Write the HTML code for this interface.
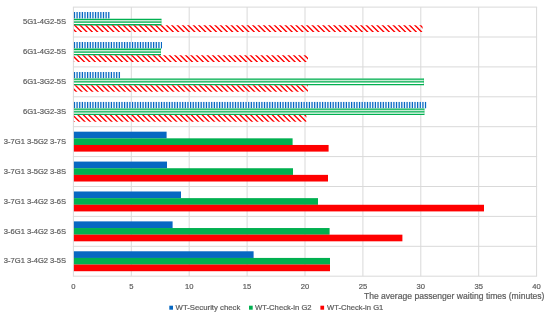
<!DOCTYPE html>
<html><head><meta charset="utf-8"><title>Chart</title><style>html,body{margin:0;padding:0;background:#fff}svg{display:block}</style></head><body>
<svg width="550" height="318" viewBox="0 0 550 318" font-family="'Liberation Sans', sans-serif" stroke-linejoin="round">
<rect width="550" height="318" fill="#fff"/>
<path d="M72.90 7.10H537.10M72.90 37.00H537.10M72.90 66.90H537.10M72.90 96.80H537.10M72.90 126.70H537.10M72.90 156.60H537.10M72.90 186.50H537.10M72.90 216.40H537.10M72.90 246.30H537.10M72.90 276.20H537.10M73.40 7.10V276.20M131.30 7.10V276.20M189.20 7.10V276.20M247.10 7.10V276.20M305.00 7.10V276.20M362.90 7.10V276.20M420.80 7.10V276.20M478.70 7.10V276.20M536.60 7.10V276.20" stroke="#d9d9d9" stroke-width="1" fill="none"/>
<defs><clipPath id="cb0"><rect x="73.90" y="12.08" width="36.10" height="6.64"/></clipPath><clipPath id="cr0"><rect x="73.90" y="25.37" width="348.70" height="6.64"/></clipPath><clipPath id="cb1"><rect x="73.90" y="41.98" width="88.10" height="6.64"/></clipPath><clipPath id="cr1"><rect x="73.90" y="55.27" width="234.10" height="6.64"/></clipPath><clipPath id="cb2"><rect x="73.90" y="71.88" width="46.70" height="6.64"/></clipPath><clipPath id="cr2"><rect x="73.90" y="85.17" width="234.10" height="6.64"/></clipPath><clipPath id="cb3"><rect x="73.90" y="101.78" width="352.70" height="6.64"/></clipPath><clipPath id="cr3"><rect x="73.90" y="115.07" width="232.50" height="6.64"/></clipPath></defs>
<g clip-path="url(#cb0)"><rect x="73.90" y="12.08" width="36.10" height="6.64" fill="#f2f7fd"/><path d="M74.45 12.08V18.73M77.09 12.08V18.73M79.73 12.08V18.73M82.37 12.08V18.73M85.01 12.08V18.73M87.65 12.08V18.73M90.29 12.08V18.73M92.93 12.08V18.73M95.57 12.08V18.73M98.21 12.08V18.73M100.85 12.08V18.73M103.49 12.08V18.73M106.13 12.08V18.73M108.77 12.08V18.73" stroke="#0768c2" stroke-width="1.25"/></g>
<rect x="73.90" y="18.73" width="87.50" height="6.64" fill="#fff"/>
<rect x="73.90" y="19.33" width="87.50" height="2.65" fill="#c9ecd6"/>
<path d="M73.90 19.35H161.40M73.90 22.15H161.40M73.90 24.76H161.40" stroke="#00b050" stroke-width="1.3"/>
<path d="M161.15 18.73V25.37" stroke="#00b050" stroke-width="0.5" opacity="0.6"/>
<g clip-path="url(#cr0)"><path d="M63.05 24.37l8.64 8.64M68.45 24.37l8.64 8.64M73.85 24.37l8.64 8.64M79.25 24.37l8.64 8.64M84.65 24.37l8.64 8.64M90.05 24.37l8.64 8.64M95.45 24.37l8.64 8.64M100.85 24.37l8.64 8.64M106.25 24.37l8.64 8.64M111.65 24.37l8.64 8.64M117.05 24.37l8.64 8.64M122.45 24.37l8.64 8.64M127.85 24.37l8.64 8.64M133.25 24.37l8.64 8.64M138.65 24.37l8.64 8.64M144.05 24.37l8.64 8.64M149.45 24.37l8.64 8.64M154.85 24.37l8.64 8.64M160.25 24.37l8.64 8.64M165.65 24.37l8.64 8.64M171.05 24.37l8.64 8.64M176.45 24.37l8.64 8.64M181.85 24.37l8.64 8.64M187.25 24.37l8.64 8.64M192.65 24.37l8.64 8.64M198.05 24.37l8.64 8.64M203.45 24.37l8.64 8.64M208.85 24.37l8.64 8.64M214.25 24.37l8.64 8.64M219.65 24.37l8.64 8.64M225.05 24.37l8.64 8.64M230.45 24.37l8.64 8.64M235.85 24.37l8.64 8.64M241.25 24.37l8.64 8.64M246.65 24.37l8.64 8.64M252.05 24.37l8.64 8.64M257.45 24.37l8.64 8.64M262.85 24.37l8.64 8.64M268.25 24.37l8.64 8.64M273.65 24.37l8.64 8.64M279.05 24.37l8.64 8.64M284.45 24.37l8.64 8.64M289.85 24.37l8.64 8.64M295.25 24.37l8.64 8.64M300.65 24.37l8.64 8.64M306.05 24.37l8.64 8.64M311.45 24.37l8.64 8.64M316.85 24.37l8.64 8.64M322.25 24.37l8.64 8.64M327.65 24.37l8.64 8.64M333.05 24.37l8.64 8.64M338.45 24.37l8.64 8.64M343.85 24.37l8.64 8.64M349.25 24.37l8.64 8.64M354.65 24.37l8.64 8.64M360.05 24.37l8.64 8.64M365.45 24.37l8.64 8.64M370.85 24.37l8.64 8.64M376.25 24.37l8.64 8.64M381.65 24.37l8.64 8.64M387.05 24.37l8.64 8.64M392.45 24.37l8.64 8.64M397.85 24.37l8.64 8.64M403.25 24.37l8.64 8.64M408.65 24.37l8.64 8.64M414.05 24.37l8.64 8.64M419.45 24.37l8.64 8.64" stroke="#ff0000" stroke-width="1.4"/></g>
<g clip-path="url(#cb1)"><rect x="73.90" y="41.98" width="88.10" height="6.64" fill="#f2f7fd"/><path d="M74.45 41.98V48.63M77.09 41.98V48.63M79.73 41.98V48.63M82.37 41.98V48.63M85.01 41.98V48.63M87.65 41.98V48.63M90.29 41.98V48.63M92.93 41.98V48.63M95.57 41.98V48.63M98.21 41.98V48.63M100.85 41.98V48.63M103.49 41.98V48.63M106.13 41.98V48.63M108.77 41.98V48.63M111.41 41.98V48.63M114.05 41.98V48.63M116.69 41.98V48.63M119.33 41.98V48.63M121.97 41.98V48.63M124.61 41.98V48.63M127.25 41.98V48.63M129.89 41.98V48.63M132.53 41.98V48.63M135.17 41.98V48.63M137.81 41.98V48.63M140.45 41.98V48.63M143.09 41.98V48.63M145.73 41.98V48.63M148.37 41.98V48.63M151.01 41.98V48.63M153.65 41.98V48.63M156.29 41.98V48.63M158.93 41.98V48.63M161.57 41.98V48.63" stroke="#0768c2" stroke-width="1.25"/></g>
<rect x="73.90" y="48.63" width="87.10" height="6.64" fill="#fff"/>
<rect x="73.90" y="49.23" width="87.10" height="2.65" fill="#c9ecd6"/>
<path d="M73.90 49.25H161.00M73.90 52.05H161.00M73.90 54.66H161.00" stroke="#00b050" stroke-width="1.3"/>
<path d="M160.75 48.63V55.27" stroke="#00b050" stroke-width="0.5" opacity="0.6"/>
<g clip-path="url(#cr1)"><path d="M60.55 54.27l8.64 8.64M65.95 54.27l8.64 8.64M71.35 54.27l8.64 8.64M76.75 54.27l8.64 8.64M82.15 54.27l8.64 8.64M87.55 54.27l8.64 8.64M92.95 54.27l8.64 8.64M98.35 54.27l8.64 8.64M103.75 54.27l8.64 8.64M109.15 54.27l8.64 8.64M114.55 54.27l8.64 8.64M119.95 54.27l8.64 8.64M125.35 54.27l8.64 8.64M130.75 54.27l8.64 8.64M136.15 54.27l8.64 8.64M141.55 54.27l8.64 8.64M146.95 54.27l8.64 8.64M152.35 54.27l8.64 8.64M157.75 54.27l8.64 8.64M163.15 54.27l8.64 8.64M168.55 54.27l8.64 8.64M173.95 54.27l8.64 8.64M179.35 54.27l8.64 8.64M184.75 54.27l8.64 8.64M190.15 54.27l8.64 8.64M195.55 54.27l8.64 8.64M200.95 54.27l8.64 8.64M206.35 54.27l8.64 8.64M211.75 54.27l8.64 8.64M217.15 54.27l8.64 8.64M222.55 54.27l8.64 8.64M227.95 54.27l8.64 8.64M233.35 54.27l8.64 8.64M238.75 54.27l8.64 8.64M244.15 54.27l8.64 8.64M249.55 54.27l8.64 8.64M254.95 54.27l8.64 8.64M260.35 54.27l8.64 8.64M265.75 54.27l8.64 8.64M271.15 54.27l8.64 8.64M276.55 54.27l8.64 8.64M281.95 54.27l8.64 8.64M287.35 54.27l8.64 8.64M292.75 54.27l8.64 8.64M298.15 54.27l8.64 8.64M303.55 54.27l8.64 8.64M308.95 54.27l8.64 8.64" stroke="#ff0000" stroke-width="1.4"/></g>
<g clip-path="url(#cb2)"><rect x="73.90" y="71.88" width="46.70" height="6.64" fill="#f2f7fd"/><path d="M74.45 71.88V78.53M77.09 71.88V78.53M79.73 71.88V78.53M82.37 71.88V78.53M85.01 71.88V78.53M87.65 71.88V78.53M90.29 71.88V78.53M92.93 71.88V78.53M95.57 71.88V78.53M98.21 71.88V78.53M100.85 71.88V78.53M103.49 71.88V78.53M106.13 71.88V78.53M108.77 71.88V78.53M111.41 71.88V78.53M114.05 71.88V78.53M116.69 71.88V78.53M119.33 71.88V78.53" stroke="#0768c2" stroke-width="1.25"/></g>
<rect x="73.90" y="78.53" width="350.10" height="6.64" fill="#fff"/>
<rect x="73.90" y="79.13" width="350.10" height="2.65" fill="#c9ecd6"/>
<path d="M73.90 79.15H424.00M73.90 81.95H424.00M73.90 84.56H424.00" stroke="#00b050" stroke-width="1.3"/>
<path d="M423.75 78.53V85.17" stroke="#00b050" stroke-width="0.5" opacity="0.6"/>
<g clip-path="url(#cr2)"><path d="M63.45 84.17l8.64 8.64M68.85 84.17l8.64 8.64M74.25 84.17l8.64 8.64M79.65 84.17l8.64 8.64M85.05 84.17l8.64 8.64M90.45 84.17l8.64 8.64M95.85 84.17l8.64 8.64M101.25 84.17l8.64 8.64M106.65 84.17l8.64 8.64M112.05 84.17l8.64 8.64M117.45 84.17l8.64 8.64M122.85 84.17l8.64 8.64M128.25 84.17l8.64 8.64M133.65 84.17l8.64 8.64M139.05 84.17l8.64 8.64M144.45 84.17l8.64 8.64M149.85 84.17l8.64 8.64M155.25 84.17l8.64 8.64M160.65 84.17l8.64 8.64M166.05 84.17l8.64 8.64M171.45 84.17l8.64 8.64M176.85 84.17l8.64 8.64M182.25 84.17l8.64 8.64M187.65 84.17l8.64 8.64M193.05 84.17l8.64 8.64M198.45 84.17l8.64 8.64M203.85 84.17l8.64 8.64M209.25 84.17l8.64 8.64M214.65 84.17l8.64 8.64M220.05 84.17l8.64 8.64M225.45 84.17l8.64 8.64M230.85 84.17l8.64 8.64M236.25 84.17l8.64 8.64M241.65 84.17l8.64 8.64M247.05 84.17l8.64 8.64M252.45 84.17l8.64 8.64M257.85 84.17l8.64 8.64M263.25 84.17l8.64 8.64M268.65 84.17l8.64 8.64M274.05 84.17l8.64 8.64M279.45 84.17l8.64 8.64M284.85 84.17l8.64 8.64M290.25 84.17l8.64 8.64M295.65 84.17l8.64 8.64M301.05 84.17l8.64 8.64M306.45 84.17l8.64 8.64" stroke="#ff0000" stroke-width="1.4"/></g>
<g clip-path="url(#cb3)"><rect x="73.90" y="101.78" width="352.70" height="6.64" fill="#f2f7fd"/><path d="M74.45 101.78V108.43M77.09 101.78V108.43M79.73 101.78V108.43M82.37 101.78V108.43M85.01 101.78V108.43M87.65 101.78V108.43M90.29 101.78V108.43M92.93 101.78V108.43M95.57 101.78V108.43M98.21 101.78V108.43M100.85 101.78V108.43M103.49 101.78V108.43M106.13 101.78V108.43M108.77 101.78V108.43M111.41 101.78V108.43M114.05 101.78V108.43M116.69 101.78V108.43M119.33 101.78V108.43M121.97 101.78V108.43M124.61 101.78V108.43M127.25 101.78V108.43M129.89 101.78V108.43M132.53 101.78V108.43M135.17 101.78V108.43M137.81 101.78V108.43M140.45 101.78V108.43M143.09 101.78V108.43M145.73 101.78V108.43M148.37 101.78V108.43M151.01 101.78V108.43M153.65 101.78V108.43M156.29 101.78V108.43M158.93 101.78V108.43M161.57 101.78V108.43M164.21 101.78V108.43M166.85 101.78V108.43M169.49 101.78V108.43M172.13 101.78V108.43M174.77 101.78V108.43M177.41 101.78V108.43M180.05 101.78V108.43M182.69 101.78V108.43M185.33 101.78V108.43M187.97 101.78V108.43M190.61 101.78V108.43M193.25 101.78V108.43M195.89 101.78V108.43M198.53 101.78V108.43M201.17 101.78V108.43M203.81 101.78V108.43M206.45 101.78V108.43M209.09 101.78V108.43M211.73 101.78V108.43M214.37 101.78V108.43M217.01 101.78V108.43M219.65 101.78V108.43M222.29 101.78V108.43M224.93 101.78V108.43M227.57 101.78V108.43M230.21 101.78V108.43M232.85 101.78V108.43M235.49 101.78V108.43M238.13 101.78V108.43M240.77 101.78V108.43M243.41 101.78V108.43M246.05 101.78V108.43M248.69 101.78V108.43M251.33 101.78V108.43M253.97 101.78V108.43M256.61 101.78V108.43M259.25 101.78V108.43M261.89 101.78V108.43M264.53 101.78V108.43M267.17 101.78V108.43M269.81 101.78V108.43M272.45 101.78V108.43M275.09 101.78V108.43M277.73 101.78V108.43M280.37 101.78V108.43M283.01 101.78V108.43M285.65 101.78V108.43M288.29 101.78V108.43M290.93 101.78V108.43M293.57 101.78V108.43M296.21 101.78V108.43M298.85 101.78V108.43M301.49 101.78V108.43M304.13 101.78V108.43M306.77 101.78V108.43M309.41 101.78V108.43M312.05 101.78V108.43M314.69 101.78V108.43M317.33 101.78V108.43M319.97 101.78V108.43M322.61 101.78V108.43M325.25 101.78V108.43M327.89 101.78V108.43M330.53 101.78V108.43M333.17 101.78V108.43M335.81 101.78V108.43M338.45 101.78V108.43M341.09 101.78V108.43M343.73 101.78V108.43M346.37 101.78V108.43M349.01 101.78V108.43M351.65 101.78V108.43M354.29 101.78V108.43M356.93 101.78V108.43M359.57 101.78V108.43M362.21 101.78V108.43M364.85 101.78V108.43M367.49 101.78V108.43M370.13 101.78V108.43M372.77 101.78V108.43M375.41 101.78V108.43M378.05 101.78V108.43M380.69 101.78V108.43M383.33 101.78V108.43M385.97 101.78V108.43M388.61 101.78V108.43M391.25 101.78V108.43M393.89 101.78V108.43M396.53 101.78V108.43M399.17 101.78V108.43M401.81 101.78V108.43M404.45 101.78V108.43M407.09 101.78V108.43M409.73 101.78V108.43M412.37 101.78V108.43M415.01 101.78V108.43M417.65 101.78V108.43M420.29 101.78V108.43M422.93 101.78V108.43M425.57 101.78V108.43" stroke="#0768c2" stroke-width="1.25"/></g>
<rect x="73.90" y="108.43" width="350.50" height="6.64" fill="#fff"/>
<rect x="73.90" y="109.03" width="350.50" height="2.65" fill="#c9ecd6"/>
<path d="M73.90 109.05H424.40M73.90 111.85H424.40M73.90 114.46H424.40" stroke="#00b050" stroke-width="1.3"/>
<path d="M424.15 108.43V115.07" stroke="#00b050" stroke-width="0.5" opacity="0.6"/>
<g clip-path="url(#cr3)"><path d="M60.95 114.07l8.64 8.64M66.35 114.07l8.64 8.64M71.75 114.07l8.64 8.64M77.15 114.07l8.64 8.64M82.55 114.07l8.64 8.64M87.95 114.07l8.64 8.64M93.35 114.07l8.64 8.64M98.75 114.07l8.64 8.64M104.15 114.07l8.64 8.64M109.55 114.07l8.64 8.64M114.95 114.07l8.64 8.64M120.35 114.07l8.64 8.64M125.75 114.07l8.64 8.64M131.15 114.07l8.64 8.64M136.55 114.07l8.64 8.64M141.95 114.07l8.64 8.64M147.35 114.07l8.64 8.64M152.75 114.07l8.64 8.64M158.15 114.07l8.64 8.64M163.55 114.07l8.64 8.64M168.95 114.07l8.64 8.64M174.35 114.07l8.64 8.64M179.75 114.07l8.64 8.64M185.15 114.07l8.64 8.64M190.55 114.07l8.64 8.64M195.95 114.07l8.64 8.64M201.35 114.07l8.64 8.64M206.75 114.07l8.64 8.64M212.15 114.07l8.64 8.64M217.55 114.07l8.64 8.64M222.95 114.07l8.64 8.64M228.35 114.07l8.64 8.64M233.75 114.07l8.64 8.64M239.15 114.07l8.64 8.64M244.55 114.07l8.64 8.64M249.95 114.07l8.64 8.64M255.35 114.07l8.64 8.64M260.75 114.07l8.64 8.64M266.15 114.07l8.64 8.64M271.55 114.07l8.64 8.64M276.95 114.07l8.64 8.64M282.35 114.07l8.64 8.64M287.75 114.07l8.64 8.64M293.15 114.07l8.64 8.64M298.55 114.07l8.64 8.64M303.95 114.07l8.64 8.64" stroke="#ff0000" stroke-width="1.4"/></g>
<rect x="73.90" y="131.68" width="92.70" height="6.69" fill="#0768c2"/>
<rect x="73.90" y="138.33" width="218.70" height="6.69" fill="#00b050"/>
<rect x="73.90" y="144.97" width="254.70" height="6.64" fill="#ff0000"/>
<rect x="73.90" y="161.58" width="93.10" height="6.69" fill="#0768c2"/>
<rect x="73.90" y="168.23" width="219.10" height="6.69" fill="#00b050"/>
<rect x="73.90" y="174.87" width="254.10" height="6.64" fill="#ff0000"/>
<rect x="73.90" y="191.48" width="107.10" height="6.69" fill="#0768c2"/>
<rect x="73.90" y="198.13" width="244.10" height="6.69" fill="#00b050"/>
<rect x="73.90" y="204.77" width="410.10" height="6.64" fill="#ff0000"/>
<rect x="73.90" y="221.38" width="98.70" height="6.69" fill="#0768c2"/>
<rect x="73.90" y="228.03" width="255.70" height="6.69" fill="#00b050"/>
<rect x="73.90" y="234.67" width="328.50" height="6.64" fill="#ff0000"/>
<rect x="73.90" y="251.28" width="179.70" height="6.69" fill="#0768c2"/>
<rect x="73.90" y="257.93" width="256.10" height="6.69" fill="#00b050"/>
<rect x="73.90" y="264.57" width="256.10" height="6.64" fill="#ff0000"/>
<text x="66.1" y="24.25" font-size="7.6" fill="#5c5c5c" stroke="#5c5c5c" stroke-width="0.2" text-anchor="end" textLength="43.2" lengthAdjust="spacingAndGlyphs">5G1-4G2-5S</text>
<text x="66.1" y="54.15" font-size="7.6" fill="#5c5c5c" stroke="#5c5c5c" stroke-width="0.2" text-anchor="end" textLength="43.2" lengthAdjust="spacingAndGlyphs">6G1-4G2-5S</text>
<text x="66.1" y="84.05" font-size="7.6" fill="#5c5c5c" stroke="#5c5c5c" stroke-width="0.2" text-anchor="end" textLength="43.2" lengthAdjust="spacingAndGlyphs">6G1-3G2-5S</text>
<text x="66.1" y="113.95" font-size="7.6" fill="#5c5c5c" stroke="#5c5c5c" stroke-width="0.2" text-anchor="end" textLength="43.2" lengthAdjust="spacingAndGlyphs">6G1-3G2-3S</text>
<text x="66.1" y="143.85" font-size="7.6" fill="#5c5c5c" stroke="#5c5c5c" stroke-width="0.2" text-anchor="end" textLength="62.3" lengthAdjust="spacingAndGlyphs">3-7G1 3-5G2 3-7S</text>
<text x="66.1" y="173.75" font-size="7.6" fill="#5c5c5c" stroke="#5c5c5c" stroke-width="0.2" text-anchor="end" textLength="62.3" lengthAdjust="spacingAndGlyphs">3-7G1 3-5G2 3-8S</text>
<text x="66.1" y="203.65" font-size="7.6" fill="#5c5c5c" stroke="#5c5c5c" stroke-width="0.2" text-anchor="end" textLength="62.3" lengthAdjust="spacingAndGlyphs">3-7G1 3-4G2 3-6S</text>
<text x="66.1" y="233.55" font-size="7.6" fill="#5c5c5c" stroke="#5c5c5c" stroke-width="0.2" text-anchor="end" textLength="62.3" lengthAdjust="spacingAndGlyphs">3-6G1 3-4G2 3-6S</text>
<text x="66.1" y="263.45" font-size="7.6" fill="#5c5c5c" stroke="#5c5c5c" stroke-width="0.2" text-anchor="end" textLength="62.3" lengthAdjust="spacingAndGlyphs">3-7G1 3-4G2 3-5S</text>
<text x="73.40" y="289.1" font-size="7.6" fill="#5c5c5c" stroke="#5c5c5c" stroke-width="0.2" text-anchor="middle">0</text>
<text x="131.30" y="289.1" font-size="7.6" fill="#5c5c5c" stroke="#5c5c5c" stroke-width="0.2" text-anchor="middle">5</text>
<text x="189.20" y="289.1" font-size="7.6" fill="#5c5c5c" stroke="#5c5c5c" stroke-width="0.2" text-anchor="middle">10</text>
<text x="247.10" y="289.1" font-size="7.6" fill="#5c5c5c" stroke="#5c5c5c" stroke-width="0.2" text-anchor="middle">15</text>
<text x="305.00" y="289.1" font-size="7.6" fill="#5c5c5c" stroke="#5c5c5c" stroke-width="0.2" text-anchor="middle">20</text>
<text x="362.90" y="289.1" font-size="7.6" fill="#5c5c5c" stroke="#5c5c5c" stroke-width="0.2" text-anchor="middle">25</text>
<text x="420.80" y="289.1" font-size="7.6" fill="#5c5c5c" stroke="#5c5c5c" stroke-width="0.2" text-anchor="middle">30</text>
<text x="478.70" y="289.1" font-size="7.6" fill="#5c5c5c" stroke="#5c5c5c" stroke-width="0.2" text-anchor="middle">35</text>
<text x="536.60" y="289.1" font-size="7.6" fill="#5c5c5c" stroke="#5c5c5c" stroke-width="0.2" text-anchor="middle">40</text>
<text x="363.9" y="299" font-size="8.4" fill="#5c5c5c" stroke="#5c5c5c" stroke-width="0.2" textLength="180.6" lengthAdjust="spacingAndGlyphs">The average passenger waiting times (minutes)</text>
<rect x="169.3" y="305.7" width="3.7" height="4" fill="#0768c2"/>
<text x="175.6" y="310.25" font-size="7.7" fill="#5c5c5c" stroke="#5c5c5c" stroke-width="0.2" textLength="64.8" lengthAdjust="spacingAndGlyphs">WT-Security check</text>
<rect x="249" y="305.7" width="3.7" height="4" fill="#00b050"/>
<text x="255.1" y="310.25" font-size="7.7" fill="#5c5c5c" stroke="#5c5c5c" stroke-width="0.2" textLength="56.5" lengthAdjust="spacingAndGlyphs">WT-Check-in G2</text>
<rect x="320.4" y="305.7" width="3.7" height="4" fill="#ff0000"/>
<text x="327" y="310.25" font-size="7.7" fill="#5c5c5c" stroke="#5c5c5c" stroke-width="0.2" textLength="56.3" lengthAdjust="spacingAndGlyphs">WT-Check-in G1</text>
</svg>
</body></html>
